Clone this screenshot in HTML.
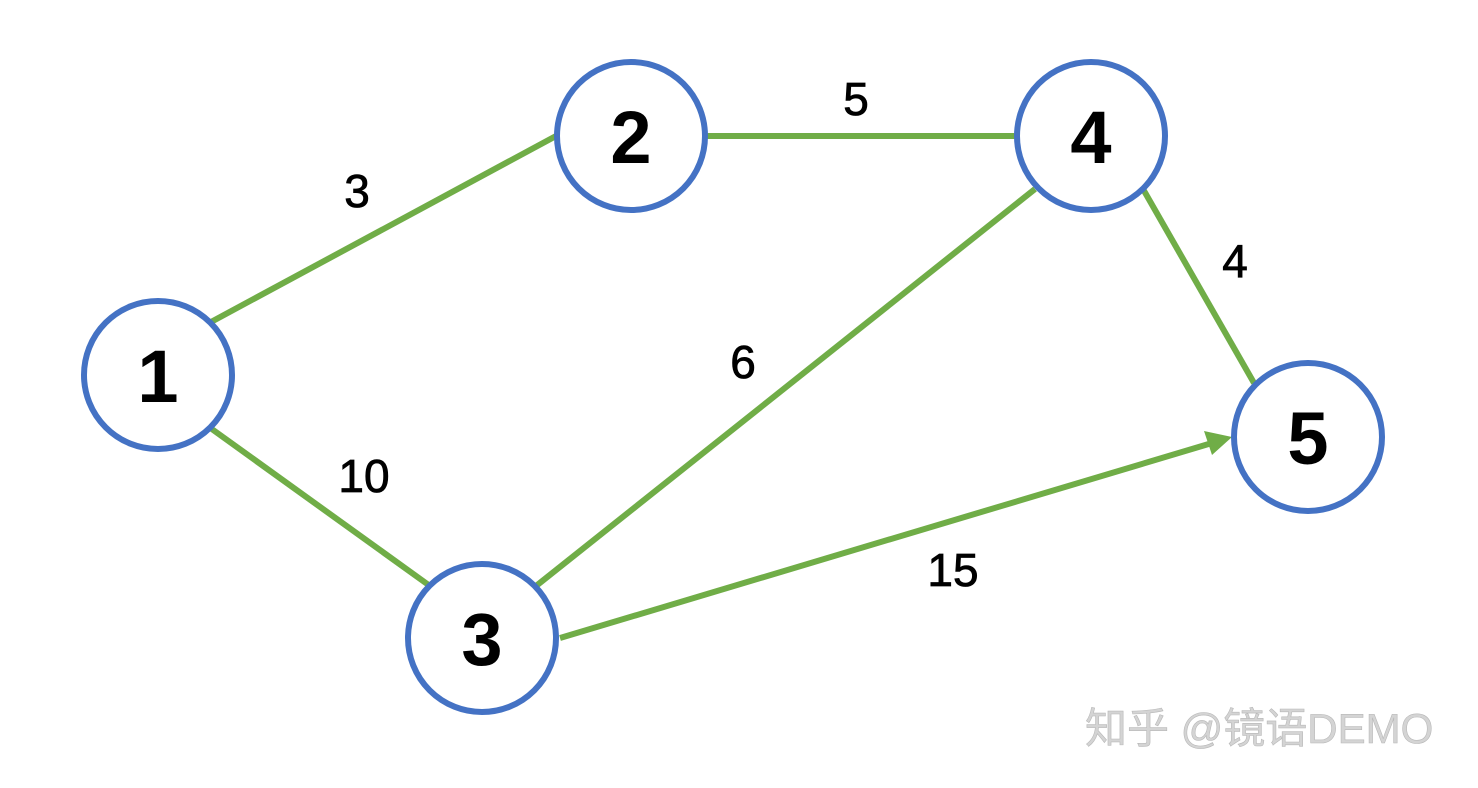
<!DOCTYPE html>
<html><head><meta charset="utf-8"><style>
html,body{margin:0;padding:0;background:#fff;}
svg{display:block;}
</style></head><body>
<svg width="1478" height="788" viewBox="0 0 1478 788" xmlns="http://www.w3.org/2000/svg">
<rect width="1478" height="788" fill="#fff"/>
<g stroke="#70AD47" stroke-width="6" fill="none">
<line x1="211" y1="322" x2="556" y2="136"/>
<line x1="707" y1="136" x2="1016" y2="136"/>
<line x1="209" y1="427" x2="430" y2="586"/>
<line x1="536" y1="586" x2="1035" y2="189"/>
<line x1="1143" y1="189" x2="1254" y2="383"/>
<line x1="560" y1="638" x2="1212" y2="443"/>
</g>
<polygon points="1232,437 1204,431 1212,455" fill="#70AD47"/>
<g stroke="#4472C4" stroke-width="6" fill="#fff">
<circle cx="158" cy="375" r="74"/>
<circle cx="631" cy="136" r="74"/>
<circle cx="1091" cy="136" r="74"/>
<circle cx="482" cy="638" r="74"/>
<circle cx="1308" cy="437" r="74"/>
</g>
<g font-family="Liberation Sans, sans-serif" font-weight="bold" font-size="74" text-anchor="middle" fill="#000">
<text x="158" y="402">1</text>
<text x="631" y="163">2</text>
<text x="1091" y="163">4</text>
<text x="482" y="665">3</text>
<text x="1308" y="464">5</text>
</g>
<g font-family="Liberation Sans, sans-serif" font-size="46" text-anchor="middle" fill="#000" stroke="#000" stroke-width="0.8">
<text x="357" y="207">3</text>
<text x="856" y="115">5</text>
<text x="1235" y="277">4</text>
<text x="743" y="378">6</text>
<text x="364" y="492">10</text>
<text x="953" y="586">15</text>
</g>
<text x="1085" y="743" font-family="Liberation Sans, 'Noto Sans CJK SC', sans-serif" font-size="42" fill="#d4d4d4" stroke="#b8b8b8" stroke-width="0.6">知乎 @镜语DEMO</text>
</svg>
</body></html>
